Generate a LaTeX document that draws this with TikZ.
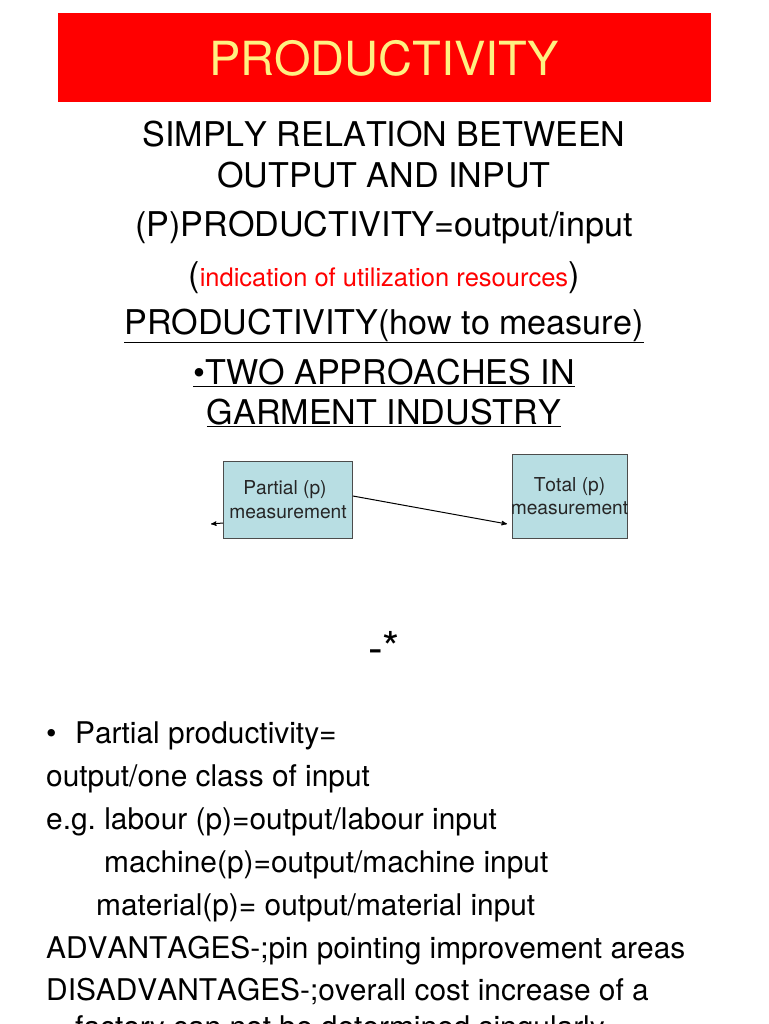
\documentclass[tikz,border=0pt]{standalone}
\usepackage{fontspec}
\setmainfont[Kerning=Off]{TeX Gyre Heros}
\usetikzlibrary{arrows}
\frenchspacing

\begin{document}
\begin{tikzpicture}[x=1pt,y=-1pt,>=stealth',
  title node/.style={anchor=base,font=\fontsize{47}{47}\selectfont,text=titleyellow},
  head node/.style={anchor=base,inner sep=0pt,font=\fontsize{34.1}{34.1}\selectfont},
  body node/.style={anchor=base west,inner sep=0pt,font=\fontsize{29.87}{29.87}\selectfont},
  box node/.style={draw=black!70,fill=boxblue,line width=0.8pt,minimum width=0pt},
  box text/.style={anchor=base,inner sep=0pt,font=\fontsize{19.2}{19.2}\selectfont,text=black!85}]
  \definecolor{boxblue}{RGB}{184,222,227}
  \definecolor{titleyellow}{RGB}{255,240,130}
  \useasboundingbox (0,0) rectangle (768,1024);
  \clip (0,0) rectangle (768,1024);
  \node[fill=red,minimum width=653pt,minimum height=89pt,inner sep=0pt] (banner) at (384,57.5) {};
  \node[title node] (title) at (384,75.5) {PRODUCTIVITY};

  \node[head node] (line1) at (384,146.5) {SIMPLY RELATION BETWEEN};
  \node[head node] (line2) at (384,187.5) {OUTPUT AND INPUT};
  \node[head node] (line3) at (384,236.5) {(P)PRODUCTIVITY=output/input};
  \node[head node] (line4) at (384,286) {(\textcolor{red}{\fontsize{25.5}{25.5}\selectfont indication of utilization resources})};
  \node[head node] (line5) at (384,334) {\underline{PRODUCTIVITY(how to measure)}};
  \node[head node] (line6) at (384,384) {\underline{•TWO APPROACHES IN}};
  \node[head node] (line7) at (384,424) {\underline{GARMENT INDUSTRY}};

  \node[box node,minimum width=129pt,minimum height=77pt,inner sep=0pt] (partial) at (288,499.5) {};
  \node[box node,minimum width=115pt,minimum height=84pt,inner sep=0pt] (total) at (569.5,496) {};
  \node[box text] (partial1) at (285,494) {Partial (p)};
  \node[box text] (partial2) at (288,518) {measurement};
  \node[box text] (total1) at (569.5,491) {Total (p)};
  \node[box text] (total2) at (569.5,514.5) {measurement};
  \coordinate (leftend) at (211,524);
  \coordinate (rightend) at (507,524);
  \draw[->,line width=1pt] (partial.west |- leftend) ++(0,-1) -- (leftend);
  \draw[->,line width=1pt] (partial.east |- 0,496) -- (rightend);

  \node[head node,font=\fontsize{44}{44}\selectfont] (star) at (384,663) {-*};

  \node[body node] (bullet) at (46,743) {•};
  \node[body node] (b1) at (75,743) {Partial productivity=};
  \node[body node] (b2) at (46,786) {output/one class of input};
  \node[body node] (b3) at (46,829) {e.g. labour (p)=output/labour input};
  \node[body node] (b4) at (104,872) {machine(p)=output/machine input};
  \node[body node] (b5) at (96,915) {material(p)= output/material input};
  \node[body node] (b6) at (46,958) {ADVANTAGES-;pin pointing improvement areas};
  \node[body node] (b7) at (46,1000) {DISADVANTAGES-;overall cost increase of a};
  \node[body node] (b8) at (75,1037) {factory can not be determined singularly};
\end{tikzpicture}
\end{document}
